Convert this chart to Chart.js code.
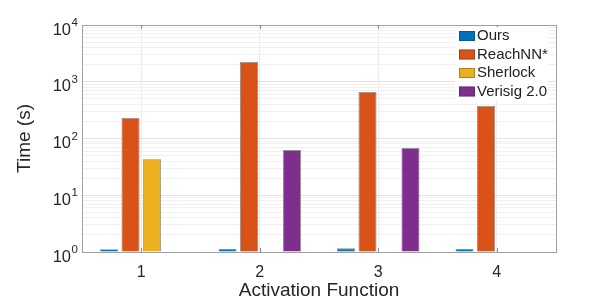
<!DOCTYPE html>
<html>
<head>
<meta charset="utf-8">
<script src="https://cdn.jsdelivr.net/npm/chart.js@4/dist/chart.umd.min.js"></script>
<style>
html,body{margin:0;padding:0;background:#fff;}
#wrap{width:616px;height:304px;position:relative;}
</style>
</head>
<body>
<div id="wrap"><canvas id="c" width="616" height="304"></canvas></div>
<script>
const categories = ['1', '2', '3', '4'];
const ours = [1.12, 1.13, 1.16, 1.13];
const reachnn = [230, 2230, 660, 375];
const sherlock = [43, null, null, null];
const verisig = [null, 63, 68, null];
const yTickValues = [1, 10, 100, 1000, 10000];
const yTickBase = ['10', '10', '10', '10', '10'];
const yTickExponents = ['0', '1', '2', '3', '4'];

const FONT = '"Liberation Sans", Arial, sans-serif';
const edge = 'rgba(40,40,40,0.55)';

const legendPlugin = {
  id: 'matlabLegend',
  afterDraw(chart) {
    const ctx = chart.ctx;
    const ds = chart.data.datasets;
    ctx.save();
    ctx.fillStyle = '#fff';
    ctx.fillRect(455, 27, 93, 74);
    ctx.font = '15px ' + FONT;
    ctx.textBaseline = 'middle';
    ctx.textAlign = 'left';
    const x0 = 459, rowY = [36, 54.5, 73, 91.5];
    ds.forEach((d, i) => {
      ctx.fillStyle = d.backgroundColor;
      ctx.fillRect(x0, rowY[i] - 5, 16, 10);
      ctx.strokeStyle = edge;
      ctx.lineWidth = 0.6;
      ctx.strokeRect(x0 + 0.5, rowY[i] - 4.5, 15, 9);
      ctx.fillStyle = '#222';
      ctx.fillText(d.label, 477, rowY[i]);
    });
    ctx.restore();
  }
};

const yLabelPlugin = {
  id: 'yPowLabels',
  afterDraw(chart) {
    const ys = chart.scales.y;
    const ctx = chart.ctx;
    ctx.save();
    ctx.fillStyle = '#262626';
    ctx.textBaseline = 'alphabetic';
    yTickValues.forEach((v, i) => {
      const y = ys.getPixelForValue(v);
      ctx.font = '16.5px ' + FONT;
      ctx.textAlign = 'right';
      ctx.fillText(yTickBase[i], 71, y + 9.5);
      ctx.font = '11.5px ' + FONT;
      ctx.textAlign = 'left';
      ctx.fillText(yTickExponents[i], 71.5, y + 1);
    });
    ctx.restore();
  }
};

const boxPlugin = {
  id: 'box',
  afterDatasetsDraw(chart) {
    const {left, right, top, bottom} = chart.chartArea;
    const ctx = chart.ctx;
    ctx.save();
    ctx.strokeStyle = '#a0a0a0';
    ctx.lineWidth = 1;
    ctx.strokeRect(Math.round(left) + 0.5, Math.round(top) + 0.5, Math.round(right - left), Math.round(bottom - top));
    const xs = chart.scales.x;
    ctx.strokeStyle = '#8a8a8a';
    categories.forEach((c, i) => {
      const x = Math.round(xs.getPixelForValue(i)) + 0.5;
      ctx.beginPath();
      ctx.moveTo(x, top); ctx.lineTo(x, top + 4);
      ctx.moveTo(x, bottom); ctx.lineTo(x, bottom - 4);
      ctx.stroke();
    });
    ctx.restore();
  }
};

new Chart(document.getElementById('c'), {
  type: 'bar',
  data: {
    labels: categories,
    datasets: [
      {label: 'Ours', data: ours, backgroundColor: '#0072BD'},
      {label: 'ReachNN*', data: reachnn, backgroundColor: '#D95319'},
      {label: 'Sherlock', data: sherlock, backgroundColor: '#EDB120'},
      {label: 'Verisig 2.0', data: verisig, backgroundColor: '#7E2F8E'}
    ].map(d => Object.assign(d, {borderColor: edge, borderWidth: 0.8, categoryPercentage: 0.725, barPercentage: 0.84, base: 1}))
  },
  options: {
    responsive: false,
    animation: false,
    devicePixelRatio: 1,
    layout: {padding: {top: 25, right: 60, left: 0, bottom: 0}},
    plugins: {legend: {display: false}, tooltip: {enabled: false}},
    scales: {
      x: {
        type: 'category',
        offset: true,
        grid: {offset: false, color: '#ececec', drawTicks: false, lineWidth: 1},
        border: {display: false},
        ticks: {font: {family: FONT, size: 16}, color: '#262626', padding: 11, maxRotation: 0},
        title: {display: true, text: 'Activation Function', font: {family: FONT, size: 19}, color: '#262626', padding: {top: 0, bottom: 2}},
        afterFit(s) { s.height = 52; }
      },
      y: {
        type: 'logarithmic',
        min: 1,
        max: 10000,
        afterBuildTicks(s) {
          const t = [];
          for (let e = 0; e < 4; e++) {
            for (let m = 1; m < 10; m++) t.push({value: m * Math.pow(10, e), major: m === 1});
          }
          t.push({value: 10000, major: true});
          s.ticks = t;
        },
        grid: {
          drawTicks: false,
          color: ctx => (ctx.tick && ctx.tick.major) ? '#e2e2e2' : '#f0f0f0',
          lineWidth: 1
        },
        border: {display: false},
        ticks: {
          autoSkip: false,
          font: {family: FONT, size: 16},
          color: '#262626',
          padding: 6,
          callback: () => ''
        },
        title: {display: true, text: 'Time (s)', font: {family: FONT, size: 19}, color: '#262626', padding: {top: 13, bottom: 0}},
        afterFit(s) { s.width = 82; }
      }
    }
  },
  plugins: [boxPlugin, yLabelPlugin, legendPlugin]
});
</script>
</body>
</html>
